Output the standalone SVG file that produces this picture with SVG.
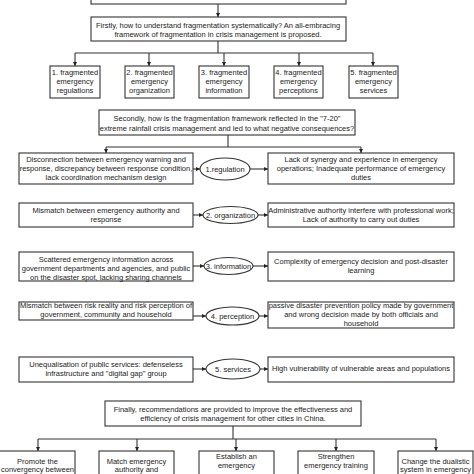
<svg xmlns="http://www.w3.org/2000/svg" width="474" height="474" viewBox="0 0 474 474">
<defs>
<marker id="arr" viewBox="0 0 10 10" refX="10" refY="5" markerWidth="4.5" markerHeight="4.5" orient="auto" markerUnits="userSpaceOnUse">
<path d="M0,0 L10,5 L0,10 z" fill="#222"/>
</marker>
<style>
rect{fill:#fff;stroke:#333;stroke-width:1.1}
ellipse{fill:#fff;stroke:#333;stroke-width:1.1}
text{font-family:"Liberation Sans",Arial,sans-serif;font-size:7.5px;fill:#222;text-anchor:middle}
.c line,.c path{stroke:#333;stroke-width:1.1;fill:none}
.a{marker-end:url(#arr)}
</style>
</defs>
<rect x="0" y="0" width="474" height="474" style="fill:#fff;stroke:none"/>

<g class="c" id="connectors">
<line x1="218" y1="4" x2="218" y2="17" class="a"/>
<line x1="218" y1="41" x2="218" y2="53"/>
<line x1="75" y1="53" x2="373" y2="53"/>
<line x1="75" y1="53" x2="75" y2="66" class="a"/>
<line x1="149" y1="53" x2="149" y2="66" class="a"/>
<line x1="224" y1="53" x2="224" y2="66" class="a"/>
<line x1="299" y1="53" x2="299" y2="66" class="a"/>
<line x1="373" y1="53" x2="373" y2="66" class="a"/>
<line x1="228" y1="135" x2="228" y2="147"/>
<line x1="106" y1="147" x2="361" y2="147"/>
<line x1="106" y1="147" x2="106" y2="153" class="a"/>
<line x1="361" y1="147" x2="361" y2="153" class="a"/>
<line x1="193" y1="169" x2="200" y2="169" class="a"/>
<line x1="250" y1="169" x2="268" y2="169" class="a"/>
<line x1="193" y1="215" x2="203" y2="215" class="a"/>
<line x1="258" y1="215" x2="268" y2="215" class="a"/>
<line x1="193" y1="266" x2="204" y2="266" class="a"/>
<line x1="253" y1="266" x2="268" y2="266" class="a"/>
<line x1="193" y1="316" x2="206" y2="316" class="a"/>
<line x1="259" y1="316" x2="268" y2="316" class="a"/>
<line x1="193" y1="369" x2="206" y2="369" class="a"/>
<line x1="260" y1="369" x2="268" y2="369" class="a"/>
<line x1="233" y1="426" x2="233" y2="439"/>
<line x1="38" y1="439" x2="436" y2="439"/>
<line x1="38" y1="439" x2="38" y2="451" class="a"/>
<line x1="137" y1="439" x2="137" y2="451" class="a"/>
<line x1="236" y1="439" x2="236" y2="451" class="a"/>
<line x1="336" y1="439" x2="336" y2="451" class="a"/>
<line x1="436" y1="439" x2="436" y2="451" class="a"/>
</g>

<g id="n-top"><rect x="91" y="-20" width="255" height="24"/></g>

<g id="n-first"><rect x="91" y="17" width="255" height="24"/>
<text x="218" y="27.6">Firstly, how to understand fragmentation systematically? An all-embracing</text>
<text x="218" y="36.6">framework of fragmentation in crisis management is proposed.</text></g>

<g id="n-f1"><rect x="50" y="66" width="50" height="32"/>
<text x="75" y="75.3">1. fragmented</text><text x="75" y="84.3">emergency</text><text x="75" y="93.3">regulations</text></g>
<g id="n-f2"><rect x="125" y="66" width="49" height="32"/>
<text x="149.5" y="75.3">2. fragmented</text><text x="149.5" y="84.3">emergency</text><text x="149.5" y="93.3">organization</text></g>
<g id="n-f3"><rect x="199" y="66" width="50" height="32"/>
<text x="224" y="75.3">3. fragmented</text><text x="224" y="84.3">emergency</text><text x="224" y="93.3">information</text></g>
<g id="n-f4"><rect x="274" y="66" width="49" height="32"/>
<text x="298.5" y="75.3">4. fragmented</text><text x="298.5" y="84.3">emergency</text><text x="298.5" y="93.3">perceptions</text></g>
<g id="n-f5"><rect x="349" y="66" width="49" height="32"/>
<text x="373.5" y="75.3">5. fragmented</text><text x="373.5" y="84.3">emergency</text><text x="373.5" y="93.3">services</text></g>

<g id="n-second"><rect x="99" y="110" width="256" height="25"/>
<text x="227" y="121">Secondly, how is the fragmentation framework reflected in the "7-20"</text>
<text x="227" y="130.5">extreme rainfall crisis management and led to what negative consequences?</text></g>

<g id="n-r1l"><rect x="19" y="153" width="174" height="31"/>
<text x="106" y="162">Disconnection between emergency warning and</text>
<text x="106" y="171">response, discrepancy between response condition,</text>
<text x="106" y="180">lack coordination mechanism design</text></g>
<g id="n-e1"><ellipse cx="225" cy="169" rx="25" ry="11"/><text x="225" y="171.6">1.regulation</text></g>
<g id="n-r1r"><rect x="268" y="153" width="186" height="31"/>
<text x="361" y="162">Lack of synergy and experience in emergency</text>
<text x="361" y="171">operations; Inadequate performance of emergency</text>
<text x="361" y="180">duties</text></g>

<g id="n-r2l"><rect x="19" y="203" width="174" height="24"/>
<text x="106" y="213">Mismatch between emergency authority and</text>
<text x="106" y="222">response</text></g>
<g id="n-e2"><ellipse cx="230.5" cy="215" rx="27.5" ry="8.5"/><text x="230.5" y="217.6">2. organization</text></g>
<g id="n-r2r"><rect x="268" y="203" width="186" height="24"/>
<text x="361" y="213">Administrative authority interfere with professional work;</text>
<text x="361" y="222">Lack of authority to carry out duties</text></g>

<g id="n-r3l"><rect x="19" y="252" width="174" height="29"/>
<text x="106" y="261.5">Scattered emergency information across</text>
<text x="106" y="270.5">government departments and agencies, and public</text>
<text x="106" y="279.5">on the disaster spot, lacking sharing channels</text></g>
<g id="n-e3"><ellipse cx="228.5" cy="266" rx="24.5" ry="8.5"/><text x="228.5" y="268.6">3. information</text></g>
<g id="n-r3r"><rect x="268" y="252" width="186" height="29"/>
<text x="361" y="264">Complexity of emergency decision and post-disaster</text>
<text x="361" y="273">learning</text></g>

<g id="n-r4l"><rect x="19" y="302" width="174" height="18"/>
<text x="106" y="308.3">Mismatch between risk reality and risk perception of</text>
<text x="106" y="317">government, community and household</text></g>
<g id="n-e4"><ellipse cx="232.5" cy="316" rx="26.5" ry="9"/><text x="232.5" y="318.6">4. perception</text></g>
<g id="n-r4r"><rect x="268" y="302" width="186" height="26"/>
<text x="361" y="308.3">passive disaster prevention policy made by government</text>
<text x="361" y="317">and wrong decision made by both officials and</text>
<text x="361" y="325.5">household</text></g>

<g id="n-r5l"><rect x="19" y="357" width="174" height="25"/>
<text x="106" y="367">Unequalisation of public services: defenseless</text>
<text x="106" y="376">infrastructure and "digital gap" group</text></g>
<g id="n-e5"><ellipse cx="233" cy="369" rx="27" ry="10"/><text x="233" y="371.6">5. services</text></g>
<g id="n-r5r"><rect x="268" y="357" width="186" height="25"/>
<text x="361" y="371">High vulnerability of vulnerable areas and populations</text></g>

<g id="n-final"><rect x="105" y="401" width="256" height="25"/>
<text x="233" y="412">Finally, recommendations are provided to improve the effectiveness and</text>
<text x="233" y="421">efficiency of crisis management for other cities in China.</text></g>

<g id="n-b1"><rect x="-1" y="451" width="76" height="40"/>
<text x="37.5" y="463.6">Promote the</text><text x="37.5" y="472.3">convergency between</text></g>
<g id="n-b2"><rect x="99" y="451" width="75" height="40"/>
<text x="136.5" y="463.6">Match emergency</text><text x="136.5" y="472.3">authority and</text></g>
<g id="n-b3"><rect x="199" y="451" width="75" height="40"/>
<text x="236.5" y="459.3">Establish an</text><text x="236.5" y="468">emergency</text></g>
<g id="n-b4"><rect x="298" y="451" width="76" height="40"/>
<text x="336" y="459.3">Strengthen</text><text x="336" y="468">emergency training</text></g>
<g id="n-b5"><rect x="398" y="451" width="75" height="40"/>
<text x="435.5" y="463.6">Change the dualistic</text><text x="435.5" y="472.3">system in emergency</text></g>
</svg>
